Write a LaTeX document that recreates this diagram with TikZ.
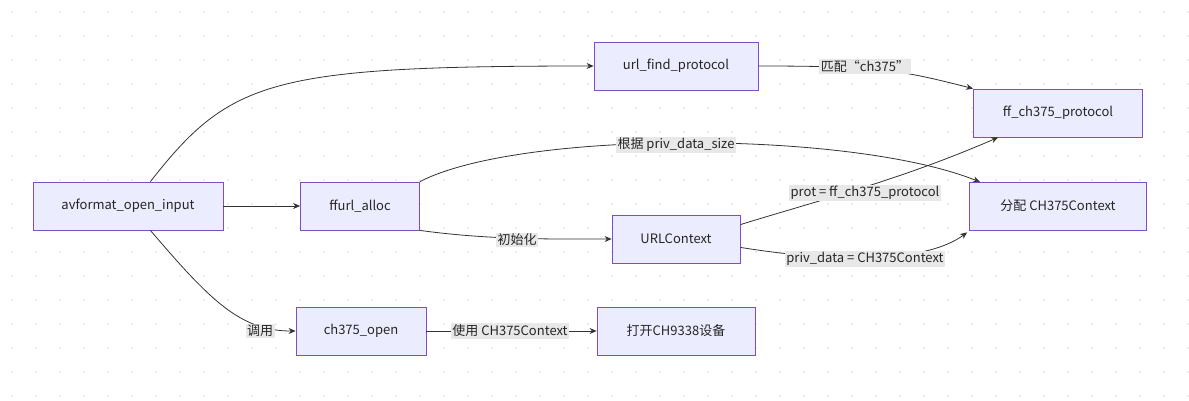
\documentclass[tikz,border=0pt]{standalone}
\usepackage{fontspec}
\setmainfont{Noto Sans CJK SC}
\usetikzlibrary{arrows.meta}
\begin{document}
\begin{tikzpicture}[x=1pt,y=-1pt,
  box/.style={draw=violet!60!blue!70,fill={rgb,255:red,236;green,236;blue,255},line width=0.8pt,minimum height=48pt,font=\fontsize{13}{15}\selectfont,text=black!85},
  lbl/.style={fill={rgb,255:red,232;green,232;blue,232},inner sep=1.5pt,font=\fontsize{13}{15}\selectfont,text=black!85},
  edge/.style={draw=black!80,line width=0.8pt,-{Stealth[length=7pt,width=6pt]}}]
\useasboundingbox (0,0) rectangle (1189,400);
\foreach \i in {0,...,49}{\foreach \j in {0,...,16}{\fill[black!12] (\i*24+12,\j*24+12) circle (1pt);}}
\node[box,minimum width=190pt] (a) at (128,206) {avformat\_open\_input};
\node[box,minimum width=164pt] (u) at (676,66) {url\_find\_protocol};
\node[box,minimum width=169pt] (p) at (1058,113) {ff\_ch375\_protocol};
\node[box,minimum width=119pt] (f) at (360,206) {ffurl\_alloc};
\node[box,minimum width=177pt] (c) at (1058,206) {分配 CH375Context};
\node[box,minimum width=128pt] (x) at (676,239) {URLContext};
\node[box,minimum width=130pt] (o) at (361,331) {ch375\_open};
\node[box,minimum width=158pt] (d) at (676,331) {打开CH9338设备};
\path[edge] (a.north east)+(-73,0) .. controls (230,80) and (270,66) .. (u.west);
\path[edge] (u.east) .. controls (880,66) and (900,70) .. (p.north west);
\node[lbl] at (865,66) {匹配“ch375”};
\path[edge] (a) -- (f);
\path[edge] (f.north east) .. controls (520,130) and (850,130) .. (980,182);
\node[lbl] at (676,145) {根据 priv\_data\_size};
\path[edge] (f.south east) .. controls (490,240) and (550,239) .. (x.west);
\node[lbl] at (517,240) {初始化};
\path[edge] (x.north east)+(0,10) .. controls (820,200) and (900,180) .. ([xshift=25pt]p.south west);
\node[lbl] at (865,193) {prot = ff\_ch375\_protocol};
\path[edge] (x.south east)+(0,-16) .. controls (850,265) and (930,260) .. ([xshift=-2pt,yshift=-2pt]c.south west);
\node[lbl] at (865,259) {priv\_data = CH375Context};
\path[edge] (a.south east)+(-73,0) .. controls (210,300) and (240,331) .. (o.west);
\node[lbl] at (260,331) {调用};
\path[edge] (o) -- (d);
\node[lbl] at (510,331) {使用 CH375Context};
\end{tikzpicture}
\end{document}
